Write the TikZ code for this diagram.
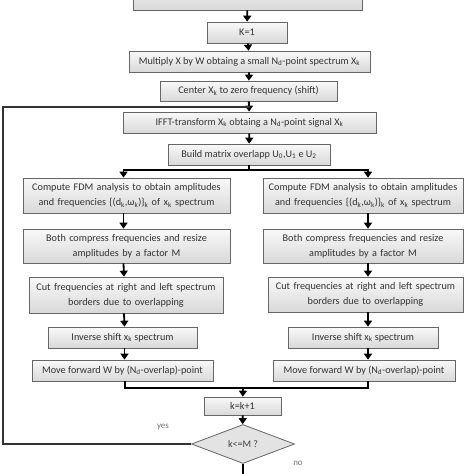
\documentclass[tikz,border=0pt]{standalone}
\usepackage{fontspec}
\setmainfont{Carlito}
\usetikzlibrary{shapes.geometric,arrows.meta,shadows}

\begin{document}
\begin{tikzpicture}[x=1pt,y=-1pt,
	box/.style={draw=black!60, line width=0.7pt, top color=gray!5, bottom color=gray!30,
		drop shadow={shadow xshift=0.8pt, shadow yshift=-1pt, fill=black!45, opacity=0.6},
		inner sep=0pt, align=center, text=black!80,
		font=\fontsize{10.2}{15}\selectfont},
	decision/.style={diamond, draw=black!60, line width=0.8pt, fill=gray!22, aspect=2.6,
		inner sep=1pt, text=black!75, font=\fontsize{10}{12}\selectfont,
		minimum width=103pt, minimum height=39pt},
	flow/.style={-{Triangle[width=8pt,length=6pt]}, line width=1.8pt, black},
	link/.style={line width=1.8pt, black},
	loopline/.style={line width=1.9pt, black!80},
	tag/.style={text=black!55, font=\fontsize{9}{10}\selectfont}]
	\clip (0,0) rectangle (474,474);
	\useasboundingbox (0,0) rectangle (474,474);
	% main column
	\node[box, minimum width=229pt, minimum height=30pt] (start) at (247.5,-5) {};
	\node[box, minimum width=80pt, minimum height=21pt] (kone) at (247,32.5) {K=1};
	\node[box, minimum width=241pt, minimum height=21pt] (mult) at (249.5,61.5)
		{Multiply X by W obtaing a small N\textsubscript{d}-point spectrum X\textsubscript{k}};
	\node[box, minimum width=177pt, minimum height=20pt] (shift) at (248.5,91)
		{Center X\textsubscript{k} to zero frequency (shift)};
	\node[box, minimum width=253pt, minimum height=21pt] (ifft) at (249.5,122.5)
		{IFFT-transform X\textsubscript{k} obtaing a N\textsubscript{d}-point signal X\textsubscript{k}};
	\node[box, minimum width=162pt, minimum height=21pt] (build) at (249,154.5)
		{Build matrix overlapp U\textsubscript{0},U\textsubscript{1} e U\textsubscript{2}};
	% left branch
	\node[box, minimum width=207pt, minimum height=35pt, text width=204pt] (fdmL) at (126.5,195.5)
		{Compute FDM analysis to obtain amplitudes\\and frequencies \{(d\textsubscript{k},ω\textsubscript{k})\}\textsubscript{k} of x\textsubscript{k} spectrum};
	\node[box, minimum width=207pt, minimum height=34pt, text width=204pt] (compL) at (126.5,246)
		{Both compress frequencies and resize\\amplitudes by a factor M};
	\node[box, minimum width=194pt, minimum height=36pt, text width=192pt] (cutL) at (126,295)
		{Cut frequencies at right and left spectrum\\borders due to overlapping};
	\node[box, minimum width=149pt, minimum height=21pt] (invL) at (122.5,337.5)
		{Inverse shift x\textsubscript{k} spectrum};
	\node[box, minimum width=181pt, minimum height=21pt] (moveL) at (122.5,370.5)
		{Move forward W by (N\textsubscript{d}-overlap)-point};
	% right branch
	\node[box, minimum width=200pt, minimum height=35pt, text width=198pt] (fdmR) at (363,195.5)
		{Compute FDM analysis to obtain amplitudes\\and frequencies \{(d\textsubscript{k},ω\textsubscript{k})\}\textsubscript{k} of x\textsubscript{k} spectrum};
	\node[box, minimum width=200pt, minimum height=34pt, text width=198pt] (compR) at (363,246)
		{Both compress frequencies and resize\\amplitudes by a factor M};
	\node[box, minimum width=195pt, minimum height=35pt, text width=193pt] (cutR) at (365.5,294.5)
		{Cut frequencies at right and left spectrum\\borders due to overlapping};
	\node[box, minimum width=150pt, minimum height=21pt] (invR) at (363,337.5)
		{Inverse shift x\textsubscript{k} spectrum};
	\node[box, minimum width=182pt, minimum height=21pt] (moveR) at (364,370.5)
		{Move forward W by (N\textsubscript{d}-overlap)-point};
	% counter and test
	\node[box, minimum width=77pt, minimum height=18pt] (inc) at (242.5,406) {k=k+1};
	\node[decision] (test) at (243,444) {k<=M ?};
	\node[tag] (yes) at (163,427) {yes};
	\node[tag] (no) at (298,463) {no};
	% helper points
	\coordinate (split) at (249,170);
	\coordinate (join) at (243,388);
	\coordinate (back) at (3,444);
	\coordinate (entry) at (249.5,107);
	\coordinate (out) at (243,480);
	% connectors
	\draw[flow] (start) -- (kone);
	\draw[flow] (kone) -- (mult);
	\draw[flow] (mult) -- (shift);
	\draw[flow] (shift) -- (ifft);
	\draw[flow] (ifft) -- (build);
	\draw[link] (build) -- (split);
	\draw[flow] (split) -| ([xshift=-3pt]fdmL.north);
	\draw[flow] (split) -| ([xshift=5pt]fdmR.north);
	\draw[flow] ([xshift=-3pt]fdmL.south) -- ([xshift=-3pt]compL.north);
	\draw[flow] ([xshift=-3pt]compL.south) -- ([xshift=-2pt]cutL.north);
	\draw[flow] ([xshift=-2pt]cutL.south) -- ([xshift=2pt]invL.north);
	\draw[flow] ([xshift=2pt]invL.south) -- ([xshift=2pt]moveL.north);
	\draw[flow] ([xshift=5pt]fdmR.south) -- ([xshift=5pt]compR.north);
	\draw[flow] ([xshift=5pt]compR.south) -- ([xshift=2.5pt]cutR.north);
	\draw[flow] ([xshift=2.5pt]cutR.south) -- ([xshift=5pt]invR.north);
	\draw[flow] ([xshift=5pt]invR.south) -- ([xshift=4pt]moveR.north);
	\draw[link] ([xshift=2.5pt]moveL.south) |- (join) -| ([xshift=4pt]moveR.south);
	\draw[flow] (join) -- (inc);
	\draw[flow] (inc) -- (test);
	\draw[flow] (test) -- (out);
	\draw[loopline] (test.west) -- (back) |- (entry);
\end{tikzpicture}
\end{document}
